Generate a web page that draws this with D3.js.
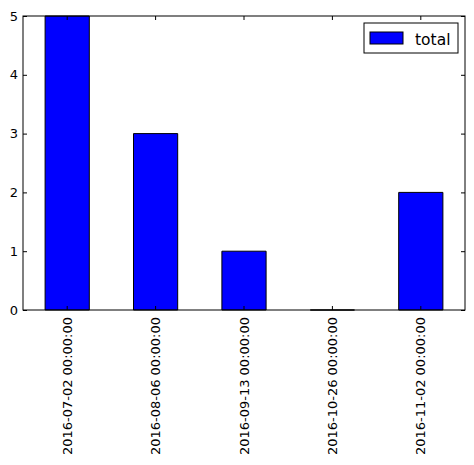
<!DOCTYPE html>
<html><head><meta charset="utf-8">
<script src="https://cdn.jsdelivr.net/npm/d3@7"></script>
<style>body{margin:0;background:#fff}svg{display:block}</style>
</head><body>
<script>
const categories = ["2016-07-02 00:00:00","2016-08-06 00:00:00","2016-09-13 00:00:00","2016-10-26 00:00:00","2016-11-02 00:00:00"];
const totals = [5, 3, 1, 0, 2];
const yTicks = [0, 1, 2, 3, 4, 5];
const seriesName = "total";

const W = 474, H = 465;
const m = {left: 23, right: 9, top: 16, bottom: 155};
const svg = d3.select("body").append("svg").attr("width", W).attr("height", H);
const x = d3.scaleBand().domain(categories).range([m.left, W - m.right]).paddingInner(0.5).paddingOuter(0.25);
const y = d3.scaleLinear().domain([0, 5]).range([H - m.bottom, m.top]);
const font = "DejaVu Sans, sans-serif";

svg.append("g").selectAll("path").data(categories).join("path")
  .attr("d", (d, i) => {
    const xa = x(d), xb2 = x(d) + x.bandwidth(), ya = y(totals[i]), yb = y(0);
    return `M${xa},${yb}V${ya}H${xb2}V${yb}Z`;
  })
  .attr("fill", "#0000ff").attr("stroke", "#000").attr("stroke-width", 1);

const x0 = m.left, x1 = W - m.right, y0 = H - m.bottom, y1 = m.top;
const tl = 4;
const yl = svg.append("g").attr("transform", `translate(${x0},0)`)
  .call(d3.axisLeft(y).tickValues(yTicks).tickFormat(d3.format("d")).tickSizeInner(-tl).tickSizeOuter(0).tickPadding(5));
const yr = svg.append("g").attr("transform", `translate(${x1},0)`)
  .call(d3.axisRight(y).tickValues(yTicks).tickFormat("").tickSizeInner(-tl).tickSizeOuter(0));
const xb = svg.append("g").attr("transform", `translate(0,${y0})`)
  .call(d3.axisBottom(x).tickSizeInner(-tl).tickSizeOuter(0).tickPadding(7));
const xt = svg.append("g").attr("transform", `translate(0,${y1})`)
  .call(d3.axisTop(x).tickFormat("").tickSizeInner(-tl).tickSizeOuter(0));
[yl, yr, xb, xt].forEach(g => {
  g.select(".domain").remove();
  g.selectAll("line").attr("stroke", "#000");
  g.selectAll("text").attr("font-family", font).attr("font-size", 13).attr("fill", "#000");
});
xb.selectAll("text")
  .attr("transform", "rotate(-90)").attr("text-anchor", "end")
  .attr("dy", "0.35em").attr("x", -7).attr("y", 0);

svg.append("rect").attr("x", x0).attr("y", y1).attr("width", x1 - x0).attr("height", y0 - y1)
  .attr("fill", "none").attr("stroke", "#000").attr("stroke-width", 1);

const lg = svg.append("g");
lg.append("rect").attr("x", 364).attr("y", 23).attr("width", 94).attr("height", 30)
  .attr("fill", "#fff").attr("stroke", "#000");
lg.append("rect").attr("x", 370).attr("y", 32).attr("width", 33).attr("height", 12)
  .attr("fill", "#0000ff").attr("stroke", "#000");
lg.append("text").attr("x", 415).attr("y", 45).attr("font-family", font).attr("font-size", 15.5)
  .text(seriesName);
</script>
</body></html>
